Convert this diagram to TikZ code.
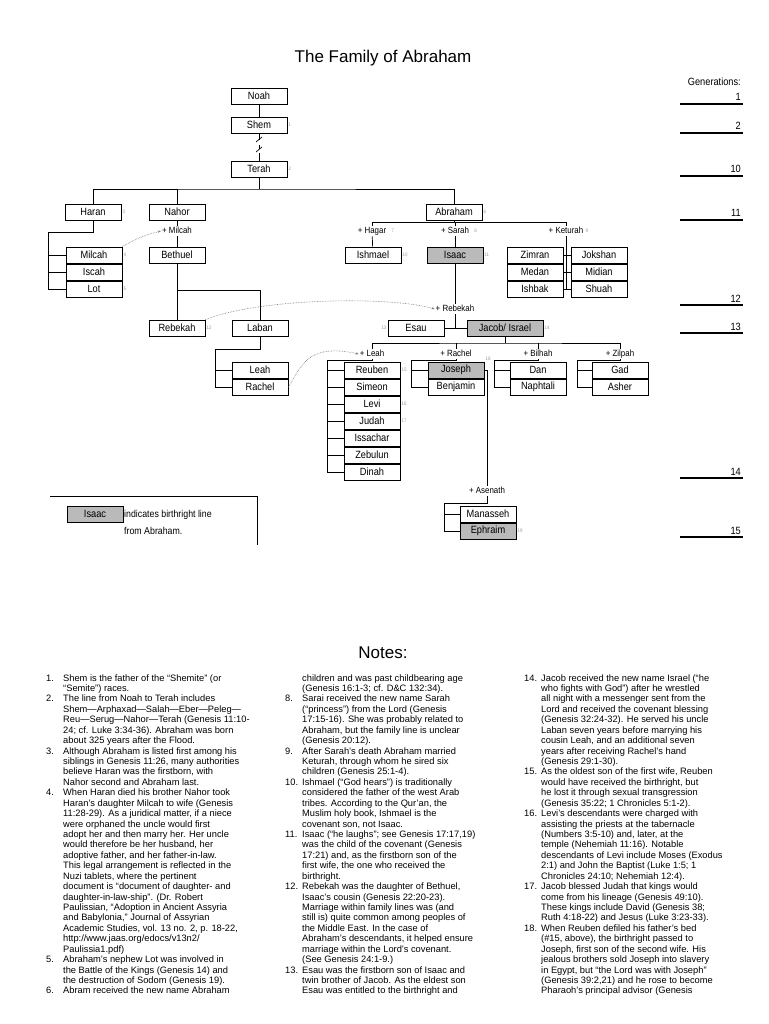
\documentclass[tikz,border=0pt]{standalone}
\usepackage{fontspec}
\setmainfont{Liberation Sans}
\newfontfamily\dfont[FakeStretch=0.88]{Liberation Sans}
\usetikzlibrary{arrows.meta}
\tikzset{
 pbox/.style={draw,line width=0.8pt,minimum width=56pt,minimum height=16pt,inner sep=0pt,font=\dfont\fontsize{10.5}{11}\selectfont},
 gbox/.style={pbox,fill=black!27},
 spouse/.style={inner sep=1pt,text height=6.5pt,text depth=2pt,font=\dfont\fontsize{9}{10}\selectfont},
 nnum/.style={anchor=west,inner sep=1pt,text=black!40,font=\dfont\fontsize{5}{6}\selectfont},
 ln/.style={line width=0.7pt},
 dsh/.style={densely dotted,black!55,line width=0.6pt,-{Stealth[length=3pt]}},
 gline/.style={line width=1.4pt},
 gnum/.style={anchor=base east,inner sep=0pt,font=\dfont\fontsize{10.5}{11}\selectfont},
}
\newcommand\nitem[1]{\par\hangindent=17pt\hangafter=1\noindent\makebox[17pt][l]{#1}}
\newcommand\notefont{\fontsize{9.3}{10.43}\selectfont}
\begin{document}
\begin{tikzpicture}[x=1pt,y=-1pt]
\useasboundingbox (0,0) rectangle (768,1024);
\clip (0,0) rectangle (768,1024);
\node[font=\fontsize{17}{20}\selectfont] (title) at (383,58) {The Family of Abraham};
% generations
\node[gnum] (gen) at (741,86) {Generations:};
\foreach \n/\y in {1/104,2/133,10/176,11/220,12/305,13/333,14/478,15/537}{
 \node[gnum] (g\n) at (741,\y-3) {\n};
 \draw[gline] (680,\y) -- (743,\y);}
% boxes
\node[pbox] (Noah) at (259,96) {Noah};
\node[pbox] (Shem) at (259,125) {Shem};
\node[pbox] (Terah) at (259,169) {Terah};
\node[pbox] (Haran) at (93,212) {Haran};
\node[pbox] (Nahor) at (177,212) {Nahor};
\node[pbox] (Abraham) at (454,212) {Abraham};
\node[pbox] (Milcah) at (94,255) {Milcah};
\node[pbox] (Iscah) at (94,272) {Iscah};
\node[pbox] (Lot) at (94,289) {Lot};
\node[pbox] (Bethuel) at (177,255) {Bethuel};
\node[pbox] (Ishmael) at (373,255) {Ishmael};
\node[gbox] (Isaac) at (455,255) {Isaac};
\node[pbox] (Zimran) at (535,255) {Zimran};
\node[pbox] (Jokshan) at (599,255) {Jokshan};
\node[pbox] (Medan) at (535,272) {Medan};
\node[pbox] (Midian) at (599,272) {Midian};
\node[pbox] (Ishbak) at (535,289) {Ishbak};
\node[pbox] (Shuah) at (599,289) {Shuah};
\node[pbox] (Rebekah) at (177,328) {Rebekah};
\node[pbox] (Laban) at (260,328) {Laban};
\node[pbox] (Esau) at (416,328) {Esau};
\node[gbox,minimum width=76pt] (Jacob) at (505,328) {Jacob/ Israel};
\node[pbox] (Leah) at (260,370) {Leah};
\node[pbox] (Rachel) at (260,387) {Rachel};
\node[pbox] (Reuben) at (372,370) {Reuben};
\node[pbox] (Simeon) at (372,387) {Simeon};
\node[pbox] (Levi) at (372,404) {Levi};
\node[pbox] (Judah) at (372,421) {Judah};
\node[pbox] (Issachar) at (372,438) {Issachar};
\node[pbox] (Zebulun) at (372,455) {Zebulun};
\node[pbox] (Dinah) at (372,472) {Dinah};
\node[gbox] (Joseph) at (456,370) {Joseph};
\node[pbox] (Benjamin) at (456,387) {Benjamin};
\node[pbox] (Dan) at (538,370) {Dan};
\node[pbox] (Naphtali) at (538,387) {Naphtali};
\node[pbox] (Gad) at (620,370) {Gad};
\node[pbox] (Asher) at (620,387) {Asher};
\node[pbox] (Manasseh) at (488,514) {Manasseh};
\node[gbox] (Ephraim) at (488,531) {Ephraim};
% spouse labels
\node[spouse] (pMilcah) at (177,231) {+ Milcah};
\node[spouse] (pHagar) at (372,231) {+ Hagar};
\node[spouse] (pSarah) at (455,231) {+ Sarah};
\node[spouse] (pKeturah) at (566,231) {+ Keturah};
\node[spouse] (pRebekah) at (455,309) {+ Rebekah};
\node[spouse] (pLeah) at (372,354) {+ Leah};
\node[spouse] (pRachel) at (456,354) {+ Rachel};
\node[spouse] (pBilhah) at (538,354) {+ Bilhah};
\node[spouse] (pZilpah) at (620,354) {+ Zilpah};
\node[spouse] (pAsenath) at (487,491) {+ Asenath};
% note numbers
\node[nnum] at (Shem.east) {1};
\node[nnum] at (Terah.east) {2};
\node[nnum] at (Haran.east) {3};
\node[nnum] at (Milcah.east) {4};
\node[nnum] at (Lot.east) {5};
\node[nnum] at (Abraham.east) {6};
\node[nnum,xshift=3pt] at (pHagar.east) {7};
\node[nnum,xshift=3pt] at (pSarah.east) {8};
\node[nnum] at (pKeturah.east) {9};
\node[nnum] at (Ishmael.east) {10};
\node[nnum] at (Isaac.east) {11};
\node[nnum] at (Rebekah.east) {12};
\node[nnum,anchor=east] at (Esau.west) {13};
\node[nnum] at (Jacob.east) {14};
\node[nnum] at (Reuben.east) {15};
\node[nnum] at (Levi.east) {16};
\node[nnum] at (Judah.east) {17};
\node[nnum,anchor=south west] at (Joseph.north east) {18};
\node[nnum] at (Ephraim.east) {19};
% connectors
\draw[ln] (Noah) -- (Shem);
\coordinate (s1) at (259,140); \coordinate (s2) at (259,153);
\draw[ln] (Shem.south) -- (s1);
\draw[ln] (s2) -- (Terah.north);
\draw[ln] (256,142) -- (262,137);
\draw[ln] (259,145.5) -- (259,149.5);
\draw[ln] (256,152) -- (262,147);
\coordinate (tb) at (259,189);
\draw[ln] (Terah) -- (tb);
\draw[ln] (Haran.north) |- (tb) -| (Abraham.north);
\draw[ln] (Nahor.north) -- (Nahor.north|-tb);
\coordinate (hl) at (48,232);
\draw[ln] (Haran.south) |- (hl) -- (hl|-Lot) -- (Lot.west);
\draw[ln] (hl|-Milcah) -- (Milcah.west);
\draw[ln] (hl|-Iscah) -- (Iscah.west);
\draw[ln] (Nahor) -- (pMilcah);
\draw[ln] (pMilcah) -- (Bethuel);
\draw[dsh] (Milcah.north east) to[bend left=8] (pMilcah.west);
\draw[ln] (Bethuel) -- (Rebekah);
\coordinate (bb) at (177,290);
\draw[ln] (bb) -| (Laban.north);
\coordinate (lb) at (215,349);
\draw[ln] (Laban.south) |- (lb) -- (lb|-Rachel) -- (Rachel.west);
\draw[ln] (lb|-Leah) -- (Leah.west);
\coordinate (ab) at (566,222);
\draw[ln] (Abraham.south) -- (Abraham.south|-ab);
\draw[ln] (pHagar.north) |- (ab) -- (pKeturah.north);
\draw[ln] (pSarah.north) -- (pSarah.north|-ab);
\draw[ln] (pKeturah.south) -- (pKeturah.south|-Ishbak);
\draw[ln] (Zimran) -- (Jokshan);
\draw[ln] (Medan) -- (Midian);
\draw[ln] (Ishbak) -- (Shuah);
\draw[ln] (pHagar) -- (Ishmael);
\draw[ln] (pSarah) -- (Isaac);
\draw[ln] (Isaac) -- (pRebekah);
\draw[ln] (pRebekah.south) -- (pRebekah.south|-Esau);
\draw[ln] (Esau) -- (Jacob);
\draw[dsh] (Rebekah.north east) .. controls (260,298) and (390,296) .. (pRebekah.west);
\coordinate (jb) at (505,343);
\draw[ln] (Jacob.south) -- (jb);
\draw[ln] (pLeah.north) |- (jb) -| (pZilpah.north);
\draw[ln] (pRachel.north) -- (pRachel.north|-jb);
\draw[ln] (pBilhah.north) -- (pBilhah.north|-jb);
\draw[dsh] (Rachel.east) .. controls (300,370) and (305,342) .. (pLeah.west);
\coordinate (lk) at (327,360);
\draw[ln] (pLeah.south) |- (lk) -- (lk|-Dinah) -- (Dinah.west);
\foreach \k in {Reuben,Simeon,Levi,Judah,Issachar,Zebulun}{\draw[ln] (lk|-\k) -- (\k.west);}
\coordinate (rk) at (411,360);
\draw[ln] (pRachel.south) |- (rk) -- (rk|-Benjamin) -- (Benjamin.west);
\draw[ln] (rk|-Joseph) -- (Joseph.west);
\coordinate (bk) at (494,360);
\draw[ln] (pBilhah.south) |- (bk) -- (bk|-Naphtali) -- (Naphtali.west);
\draw[ln] (bk|-Dan) -- (Dan.west);
\coordinate (zk) at (577,360);
\draw[ln] (pZilpah.south) |- (zk) -- (zk|-Asher) -- (Asher.west);
\draw[ln] (zk|-Gad) -- (Gad.west);
\draw[ln] (Joseph.east) -| (pAsenath.north);
\coordinate (ak) at (444,503);
\draw[ln] (pAsenath.south) |- (ak) -- (ak|-Ephraim) -- (Ephraim.west);
\draw[ln] (ak|-Manasseh) -- (Manasseh.west);
% legend
\coordinate (lg1) at (50,496); \coordinate (lg2) at (257,496); \coordinate (lg3) at (257,545);
\draw[ln] (lg1) -- (lg2) -- (lg3);
\node[gbox] (legIsaac) at (95,514) {Isaac};
\node[anchor=north west,inner sep=1pt,font=\dfont\fontsize{10}{17}\selectfont,align=left] (legtext) at (123,509) {indicates birthright line\\from Abraham.};
% notes
\node[font=\fontsize{17}{20}\selectfont] (notes) at (383,653) {Notes:};
\node[anchor=base west,inner sep=0pt] (col1) at (46,681) {\parbox[t]{260pt}{\notefont
\nitem{1.}Shem is the father of the “Shemite” (or\\“Semite”) races.
\nitem{2.}The line from Noah to Terah includes\\Shem—Arphaxad—Salah—Eber—Peleg—\\Reu—Serug—Nahor—Terah (Genesis 11:10-\\24; cf. Luke 3:34-36). Abraham was born\\about 325 years after the Flood.
\nitem{3.}Although Abraham is listed first among his\\siblings in Genesis 11:26, many authorities\\believe Haran was the firstborn, with\\Nahor second and Abraham last.
\nitem{4.}When Haran died his brother Nahor took\\Haran’s daughter Milcah to wife (Genesis\\11:28-29). As a juridical matter, if a niece\\were orphaned the uncle would first\\adopt her and then marry her. Her uncle\\would therefore be her husband, her\\adoptive father, and her father-in-law.\\This legal arrangement is reflected in the\\Nuzi tablets, where the pertinent\\document is “document of daughter- and\\daughter-in-law-ship”. (Dr. Robert\\Paulissian, “Adoption in Ancient Assyria\\and Babylonia,” Journal of Assyrian\\Academic Studies, vol. 13 no. 2, p. 18-22,\\http://www.jaas.org/edocs/v13n2/\\Paulissia1.pdf)
\nitem{5.}Abraham’s nephew Lot was involved in\\the Battle of the Kings (Genesis 14) and\\the destruction of Sodom (Genesis 19).
\nitem{6.}Abram received the new name Abraham}};
\node[anchor=base west,inner sep=0pt] (col2) at (285,681) {\parbox[t]{260pt}{\notefont
\hangindent=17pt\hangafter=0\noindent children and was past childbearing age\\(Genesis 16:1-3; cf. D\&C 132:34).
\nitem{8.}Sarai received the new name Sarah\\(“princess”) from the Lord (Genesis\\17:15-16). She was probably related to\\Abraham, but the family line is unclear\\(Genesis 20:12).
\nitem{9.}After Sarah’s death Abraham married\\Keturah, through whom he sired six\\children (Genesis 25:1-4).
\nitem{10.}Ishmael (“God hears”) is traditionally\\considered the father of the west Arab\\tribes. According to the Qur’an, the\\Muslim holy book, Ishmael is the\\covenant son, not Isaac.
\nitem{11.}Isaac (“he laughs”; see Genesis 17:17,19)\\was the child of the covenant (Genesis\\17:21) and, as the firstborn son of the\\first wife, the one who received the\\birthright.
\nitem{12.}Rebekah was the daughter of Bethuel,\\Isaac’s cousin (Genesis 22:20-23).\\Marriage within family lines was (and\\still is) quite common among peoples of\\the Middle East. In the case of\\Abraham’s descendants, it helped ensure\\marriage within the Lord’s covenant.\\(See Genesis 24:1-9.)
\nitem{13.}Esau was the firstborn son of Isaac and\\twin brother of Jacob. As the eldest son\\Esau was entitled to the birthright and}};
\node[anchor=base west,inner sep=0pt] (col3) at (524,681) {\parbox[t]{260pt}{\notefont
\nitem{14.}Jacob received the new name Israel (“he\\who fights with God”) after he wrestled\\all night with a messenger sent from the\\Lord and received the covenant blessing\\(Genesis 32:24-32). He served his uncle\\Laban seven years before marrying his\\cousin Leah, and an additional seven\\years after receiving Rachel’s hand\\(Genesis 29:1-30).
\nitem{15.}As the oldest son of the first wife, Reuben\\would have received the birthright, but\\he lost it through sexual transgression\\(Genesis 35:22; 1 Chronicles 5:1-2).
\nitem{16.}Levi’s descendants were charged with\\assisting the priests at the tabernacle\\(Numbers 3:5-10) and, later, at the\\temple (Nehemiah 11:16). Notable\\descendants of Levi include Moses (Exodus\\2:1) and John the Baptist (Luke 1:5; 1\\Chronicles 24:10; Nehemiah 12:4).
\nitem{17.}Jacob blessed Judah that kings would\\come from his lineage (Genesis 49:10).\\These kings include David (Genesis 38;\\Ruth 4:18-22) and Jesus (Luke 3:23-33).
\nitem{18.}When Reuben defiled his father’s bed\\(\#15, above), the birthright passed to\\Joseph, first son of the second wife. His\\jealous brothers sold Joseph into slavery\\in Egypt, but “the Lord was with Joseph”\\(Genesis 39:2,21) and he rose to become\\Pharaoh’s principal advisor (Genesis}};
\end{tikzpicture}
\end{document}
